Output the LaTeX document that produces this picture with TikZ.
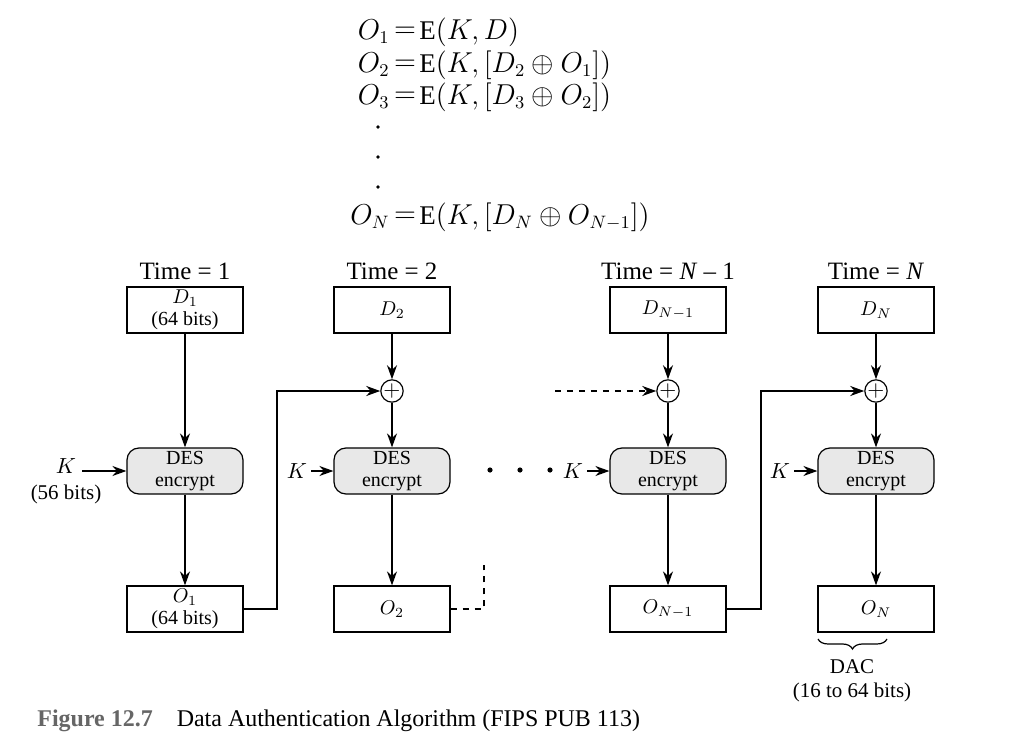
\documentclass[tikz,border=0pt]{standalone}
\usepackage{fontspec}
\setmainfont{Liberation Serif}
\usetikzlibrary{arrows.meta,decorations.pathreplacing}
\begin{document}
\begin{tikzpicture}[x=0.0176cm,y=-0.0176cm,
  blk/.style={draw, line width=0.6pt, minimum width=116*0.0176cm, minimum height=46*0.0176cm, inner sep=0pt, align=center, font=\fontsize{10}{11}\selectfont},
  des/.style={blk, rounded corners=6pt, fill=gray!18},
  xr/.style={draw, circle, line width=0.6pt, minimum size=22*0.0176cm, inner sep=0pt, font=\fontsize{11}{11}\selectfont},
  arr/.style={line width=0.9pt, -{Stealth[length=7pt,width=5pt]}},
  lnk/.style={line width=1.2pt, -{Stealth[length=7pt,width=5pt]}},
  tlab/.style={font=\fontsize{12.5}{13}\selectfont},
  eq/.style={font=\fontsize{13.5}{14}\selectfont, inner sep=0pt}
]
\useasboundingbox (0,0) rectangle (1018,752);

% equations
\node[eq, anchor=east] (l1) at (390,32) {$O_1$};
\node[eq] (e1) at (405,32) {$=$};
\node[eq, anchor=west] (r1) at (419,32) {$\mathrm{E}(K, D)$};
\node[eq, anchor=east] (l2) at (390,65) {$O_2$};
\node[eq] (e2) at (405,65) {$=$};
\node[eq, anchor=west] (r2) at (419,65) {$\mathrm{E}(K, [D_2 \oplus O_1])$};
\node[eq, anchor=east] (l3) at (390,97) {$O_3$};
\node[eq] (e3) at (405,97) {$=$};
\node[eq, anchor=west] (r3) at (419,97) {$\mathrm{E}(K, [D_3 \oplus O_2])$};
\fill (378,127) circle (1.8) (378,157) circle (1.8) (378,187) circle (1.8);
\node[eq, anchor=east] (l4) at (390,217) {$O_N$};
\node[eq] (e4) at (405,217) {$=$};
\node[eq, anchor=west] (r4) at (419,217) {$\mathrm{E}(K, [D_N \oplus O_{N-1}])$};

% time labels
\node[tlab] (t1) at (185,271) {Time = 1};
\node[tlab] (t2) at (392,271) {Time = 2};
\node[tlab] (t3) at (668,271) {Time = \textit{N} -- 1};
\node[tlab] (t4) at (876,271) {Time = \textit{N}};

% data blocks
\node[blk] (D1) at (185,310) {$D_1$\\(64 bits)};
\node[blk] (D2) at (392,310) {$D_2$};
\node[blk] (D3) at (668,310) {$D_{N-1}$};
\node[blk] (D4) at (876,310) {$D_N$};

% xor
\node[xr] (x2) at (392,391) {$+$};
\node[xr] (x3) at (668,391) {$+$};
\node[xr] (x4) at (876,391) {$+$};

% DES
\node[des] (E1) at (185,471) {DES\\encrypt};
\node[des] (E2) at (392,471) {DES\\encrypt};
\node[des] (E3) at (668,471) {DES\\encrypt};
\node[des] (E4) at (876,471) {DES\\encrypt};

% outputs
\node[blk] (O1) at (185,609) {$O_1$\\(64 bits)};
\node[blk] (O2) at (392,609) {$O_2$};
\node[blk] (O3) at (668,609) {$O_{N-1}$};
\node[blk] (O4) at (876,609) {$O_N$};

% keys
\node[font=\fontsize{10.5}{11}\selectfont, align=center, inner sep=0pt] (K1) at (66,481) {$K$\\[2pt](56 bits)};
\coordinate (k1) at (82,471);
\node[font=\fontsize{10.5}{11}\selectfont, inner sep=0pt] (K2) at (297,471) {$K$};
\node[font=\fontsize{10.5}{11}\selectfont, inner sep=0pt] (K3) at (573,471) {$K$};
\node[font=\fontsize{10.5}{11}\selectfont, inner sep=0pt] (K4) at (780,471) {$K$};

% dots
\fill (490,470) circle (2.6) (520,470) circle (2.6) (550,470) circle (2.6);

% vertical flow
\draw[arr] (D1) -- (E1);
\draw[arr] (E1) -- (O1);
\foreach \i in {2,3,4} {
  \draw[arr] (D\i) -- (x\i);
  \draw[arr] (x\i) -- (E\i);
  \draw[arr] (E\i) -- (O\i);
}

% key arrows
\draw[arr] (k1) -- (E1);
\draw[arr] ([xshift=2pt]K2.east) -- (E2);
\draw[arr] ([xshift=2pt]K3.east) -- (E3);
\draw[arr] ([xshift=2pt]K4.east) -- (E4);

% chaining
\draw[lnk] (O1.east) -| (277,391) -- (x2);
\draw[lnk] (O3.east) -| (761,391) -- (x4);
\coordinate (c2) at (484,565);
\draw[line width=1.1pt, dashed] (O2.east) -| (c2);
\coordinate (c3) at (555,391);
\draw[arr, line width=1.1pt, dashed] (c3) -- (x3);

% DAC brace
\draw[line width=0.6pt, decorate, decoration={brace, mirror, amplitude=5pt}] (818,639) -- (887,639);
\node[font=\fontsize{10.5}{12}\selectfont, align=center, inner sep=0pt] (dac) at (852,681) {DAC\\(16 to 64 bits)};

% caption
\node[anchor=west, inner sep=0pt, font=\fontsize{12}{13}\selectfont] (cap) at (37,721) {\textcolor{gray!80!black}{\textbf{Figure 12.7}}\quad Data Authentication Algorithm (FIPS PUB 113)};
\end{tikzpicture}
\end{document}
